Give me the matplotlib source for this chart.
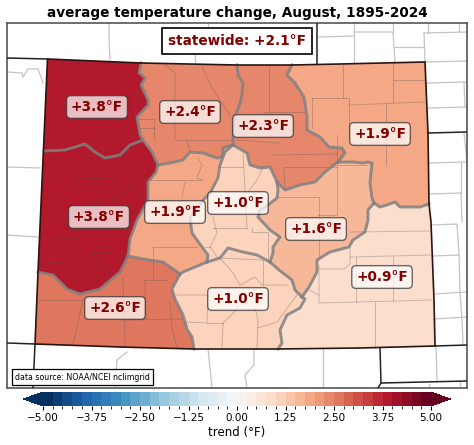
import numpy as np
import matplotlib

matplotlib.use("Agg")
import matplotlib.pyplot as plt
from matplotlib.colors import BoundaryNorm, ListedColormap
from matplotlib.colorbar import ColorbarBase
from matplotlib.patches import Polygon

W, H = 474, 445

# trends per division, degrees F
trend_nw = 3.8
trend_sw = 3.8
trend_north = 2.4
trend_northeast_mtn = 2.3
trend_east = 1.9
trend_west_mid = 1.9
trend_center = 1.0
trend_arkansas = 1.6
trend_southeast = 0.9
trend_south = 1.0
trend_southwest = 2.6
statewide = 2.1

label_values = [3.8, 2.4, 2.3, 1.9, 3.8, 1.9, 1.0, 1.6, 0.9, 1.0, 2.6]
label_xy = [(97, 107), (190, 112), (263, 126), (380, 134), (99, 217), (175, 212),
            (238, 203), (316, 229), (382, 277), (238, 299), (115, 308)]

# boundaries, in map units
north_a = [(47.5, 59), (141, 63)]
north_b = [(141, 63), (237, 65)]
north_c = [(237, 65), (292, 65)]
north_d = [(292, 65), (340, 64), (425, 62)]
east_a = [(425, 62), (428, 133), (429, 204)]
east_b = [(429, 204), (431, 222), (434, 300), (435, 346)]
south_a = [(435, 346), (360, 348), (278, 349)]
south_b = [(278, 349), (194, 349)]
south_c = [(194, 349), (120, 347), (35, 344)]
west_a = [(35, 344), (38, 272)]
west_b = [(38, 272), (47.5, 59)]

red_east = [(141, 63), (139, 73), (145, 78), (141, 85), (148, 100), (148, 105), (137, 117),
            (140, 135), (143, 140), (152, 152), (158, 165)]
red_east2 = [(158, 165), (156, 172), (148, 182), (148, 200), (137, 220), (130, 239), (128, 256)]
red_south = [(128, 256), (120, 272), (100, 289), (80, 294), (67, 289), (53, 275), (38, 272)]
red_split = [(44, 151), (65, 150), (85, 144), (95, 152), (105, 158), (120, 155), (130, 145), (143, 140)]
sw_top = [(128, 256), (143, 259), (163, 262), (180, 274)]
sw_east = [(180, 274), (172, 289), (175, 299), (183, 315), (187, 329), (192, 337), (194, 349)]
north_south = [(158, 165), (170, 163), (183, 160), (190, 152), (203, 153), (217, 158), (222, 157),
               (223, 148), (233, 145)]
north_mid = [(237, 65), (238, 75), (243, 83), (242, 95), (240, 103), (235, 117), (233, 137), (233, 145)]
center_ne = [(233, 145), (247, 153), (250, 165), (260, 168), (270, 167), (277, 182)]
center_e = [(277, 182), (278, 190), (277, 198), (268, 205), (260, 210), (258, 217), (270, 230),
            (280, 237), (273, 247), (273, 253), (270, 262)]
center_w = [(233, 145), (225, 152), (220, 165), (218, 178), (210, 193), (205, 198), (190, 218),
            (192, 233), (202, 247), (208, 255), (207, 262)]
center_s_w = [(207, 262), (220, 258), (228, 248), (243, 252), (257, 255), (270, 262)]
mid_s = [(180, 274), (183, 272), (207, 262)]
mtn_east = [(292, 65), (287, 75), (295, 83), (304, 97), (307, 117), (307, 130), (320, 137),
            (329, 147), (342, 148), (345, 153), (338, 162)]
mtn_south = [(338, 162), (325, 172), (315, 182), (300, 185), (285, 190), (277, 182)]
ark_top = [(338, 162), (353, 162), (363, 163), (368, 162), (372, 163), (370, 183), (372, 198), (374, 203)]
ark_se = [(374, 203), (368, 210), (368, 220), (365, 232), (353, 240), (349, 247), (330, 252),
          (317, 260), (317, 272), (309, 287), (302, 297)]
ark_sw = [(302, 297), (295, 290), (292, 280), (279, 270), (270, 262)]
east_south = [(374, 203), (380, 207), (387, 205), (395, 202), (400, 207), (420, 207), (429, 204)]
south_se = [(302, 297), (305, 299), (300, 308), (287, 315), (280, 330), (282, 343), (278, 349)]


def chain(*parts):
    pts = []
    for p in parts:
        pts.extend(p)
    return pts


def rev(p):
    return p[::-1]


regions = [
    (chain(north_a, red_east, red_east2, red_south, west_b), trend_nw),
    (chain(west_a, rev(red_south), sw_top, sw_east, south_c), trend_southwest),
    (chain(north_b, north_mid, rev(north_south), rev(red_east)), trend_north),
    (chain(north_c, mtn_east, mtn_south, rev(center_ne), rev(north_mid)), trend_northeast_mtn),
    (chain(north_d, east_a, rev(east_south), rev(ark_top), rev(mtn_east)), trend_east),
    (chain(north_south, center_w, rev(mid_s), rev(sw_top), rev(red_east2)), trend_west_mid),
    (chain(center_ne, center_e, rev(center_s_w), rev(center_w)), trend_center),
    (chain(rev(mtn_south), ark_top, ark_se, ark_sw, rev(center_e)), trend_arkansas),
    (chain(east_south, east_b, south_a, rev(south_se), rev(ark_se)), trend_southeast),
    (chain(mid_s, center_s_w, rev(ark_sw), south_se, south_b, rev(sw_east)), trend_south),
]

division_lines = [red_east, red_east2, red_south, red_split, sw_top, sw_east, north_south, north_mid,
                  center_ne, center_e, center_w, center_s_w, mid_s, mtn_east, mtn_south, ark_top,
                  ark_se, ark_sw, east_south, south_se]

state_outline = chain(north_a, north_b, north_c, north_d, east_a, east_b, south_a, south_b, south_c, west_a, west_b)

state_lines = [
    [(7, 58), (47.5, 59)],
    [(7, 343), (35, 344)],
    [(35, 344), (33, 388)],
    [(317, 23), (317, 64)],
    [(428, 133), (467, 132)],
    [(435, 346), (467, 345)],
    [(380, 348), (381, 383), (467, 381)],
    [(381, 383), (378, 388)],
]

outer_counties = [
    [(109, 23), (109, 37), (110, 60)], [(208, 23), (208, 36)], [(195, 55), (195, 62)],
    [(7, 72), (22, 73), (23, 77), (28, 69), (38, 69), (43, 83)], [(7, 167), (40, 168)], [(7, 235), (38, 237)],
    [(127, 352), (117, 360), (115, 388)], [(208, 349), (212, 388)],
    [(254, 350), (254, 365), (245, 375), (247, 388)], [(323, 349), (323, 388)],
    [(436, 346), (437, 381)], [(429, 384), (429, 388)], [(460, 382), (460, 388)],
    [(432, 225), (457, 224), (459, 255), (460, 292), (462, 319), (463, 345)],
    [(433, 256), (459, 255)], [(434, 294), (467, 292)], [(434, 319), (467, 317)],
    [(354, 23), (354, 62)], [(354, 32), (393, 32), (395, 62)], [(393, 23), (393, 32)], [(428, 23), (428, 33)],
    [(319, 37), (354, 36)], [(395, 47), (424, 47)], [(424, 33), (425, 62)], [(424, 33), (467, 32)],
    [(459, 23), (459, 32)], [(425, 62), (467, 61)], [(427, 83), (467, 82)], [(464, 82), (465, 107)],
    [(428, 108), (467, 107)], [(429, 163), (467, 162)], [(464, 133), (467, 162)],
    [(430, 194), (461, 193), (462, 222)], [(461, 163), (461, 193)],
]

inner_counties = [
    [(343, 65), (343, 98)], [(312, 98), (349, 98), (349, 135)], [(312, 98), (312, 128)],
    [(349, 105), (425, 102)], [(393, 63), (393, 102)], [(393, 80), (425, 80)], [(386, 104), (386, 165)],
    [(337, 135), (337, 163)], [(337, 165), (337, 215), (318, 215)], [(337, 165), (367, 165)],
    [(277, 197), (319, 197), (319, 260)], [(269, 65), (269, 112)], [(263, 112), (305, 112)],
    [(284, 167), (337, 167)], [(284, 168), (285, 190)], [(272, 155), (337, 154)], [(237, 140), (280, 143)],
    [(165, 65), (175, 73), (175, 140)], [(202, 67), (212, 88), (230, 115)],
    [(138, 119), (154, 119), (154, 138)], [(140, 128), (154, 128)], [(177, 140), (233, 140)],
    [(187, 140), (190, 152)],
    [(45, 115), (137, 115)], [(135, 95), (135, 115)], [(135, 95), (147, 90)],
    [(103, 155), (103, 145), (140, 145)], [(43, 155), (118, 155)], [(43, 177), (148, 180)],
    [(130, 180), (133, 187), (147, 200)], [(133, 187), (117, 200), (95, 203), (93, 220)],
    [(41, 237), (77, 239), (78, 222)], [(38, 262), (100, 264), (110, 277)], [(92, 252), (128, 254)],
    [(92, 252), (102, 262)], [(120, 254), (122, 269)],
    [(40, 300), (83, 300)], [(83, 300), (78, 322), (73, 344)], [(123, 277), (125, 345)],
    [(145, 280), (146, 319)], [(125, 320), (183, 319)], [(170, 302), (172, 329), (177, 347)],
    [(145, 280), (167, 280)], [(153, 247), (153, 279)], [(153, 247), (197, 247)],
    [(148, 180), (202, 180)], [(185, 182), (182, 197)], [(198, 158), (202, 165), (197, 178), (202, 180)],
    [(218, 167), (243, 167)], [(243, 153), (247, 228)], [(213, 228), (247, 228)],
    [(213, 217), (217, 233), (210, 247), (218, 258)], [(205, 247), (210, 247)],
    [(252, 228), (252, 232), (268, 232), (268, 260)], [(263, 167), (257, 180), (247, 193)],
    [(220, 258), (233, 273), (240, 285), (255, 277), (262, 285), (287, 285)], [(263, 260), (263, 285)],
    [(177, 295), (208, 295), (207, 323), (185, 322)], [(207, 323), (223, 323)],
    [(238, 308), (223, 323), (222, 347)], [(255, 308), (258, 320), (257, 348)],
    [(258, 328), (277, 322), (297, 295)], [(220, 258), (263, 260)],
    [(319, 265), (319, 303), (432, 300)], [(356, 257), (356, 302)], [(350, 257), (432, 255)],
    [(393, 257), (393, 301)], [(375, 302), (375, 348)], [(350, 232), (430, 231)],
    [(319, 269), (344, 269), (350, 264), (350, 247)], [(309, 290), (319, 295)],
]

levels = np.linspace(-5, 5, 41)
cbar_ticks = [-5.0, -3.75, -2.5, -1.25, 0.0, 1.25, 2.5, 3.75, 5.0]
base = plt.get_cmap("RdBu_r")
cmap = ListedColormap(base(np.linspace(0, 1, 40)))
cmap.set_under(base(0.0))
cmap.set_over(base(1.0))
norm = BoundaryNorm(levels, 40)

fig = plt.figure(figsize=(W / 100, H / 100), dpi=100)
ax = fig.add_axes([7 / W, 1 - 388 / H, 460 / W, 365 / H])
ax.set_xlim(7, 467)
ax.set_ylim(388, 23)
ax.set_xticks([])
ax.set_yticks([])
for s in ax.spines.values():
    s.set_color("#555555")
    s.set_linewidth(1.2)

for pts, val in regions:
    ax.add_patch(Polygon(pts, closed=True, facecolor=cmap(norm(val)), edgecolor="none", zorder=1))

for ln in outer_counties:
    xy = np.array(ln)
    ax.plot(xy[:, 0], xy[:, 1], color="#c4c4c4", lw=0.9, zorder=2)
for ln in inner_counties:
    xy = np.array(ln)
    ax.plot(xy[:, 0], xy[:, 1], color="#555555", alpha=0.3, lw=0.7, zorder=2)
for ln in division_lines:
    xy = np.array(ln)
    ax.plot(xy[:, 0], xy[:, 1], color="#808080", alpha=0.85, lw=2.1, zorder=3, solid_joinstyle="round")
for ln in state_lines:
    xy = np.array(ln)
    ax.plot(xy[:, 0], xy[:, 1], color="#222222", lw=1.1, zorder=4)
ax.add_patch(Polygon(state_outline, closed=True, facecolor="none", edgecolor="#2a1510", lw=1.2, zorder=4))

for (x, y), v in zip(label_xy, label_values):
    ax.text(x, y, f"{v:+.1f}°F", ha="center", va="center", color="#800000", fontsize=9.8, fontweight="bold",
            zorder=6, bbox=dict(boxstyle="round,pad=0.32", facecolor="white", alpha=0.72, edgecolor="#333333", lw=1))

ax.text(237, 41, f"statewide: {statewide:+.1f}°F", ha="center", va="center", color="#800000", fontsize=9.8,
        fontweight="bold", zorder=7, bbox=dict(boxstyle="square,pad=0.42", facecolor="white", edgecolor="black", lw=1.2))
ax.text(82.5, 377, "data source: NOAA/NCEI nclimgrid", ha="center", va="center", fontsize=5.7, zorder=7,
        bbox=dict(boxstyle="square,pad=0.38", facecolor="white", edgecolor="black", lw=0.9))

ax.set_title("average temperature change, August, 1895-2024", fontsize=9.85, fontweight="bold", pad=4)

cax = fig.add_axes([23.6 / W, 1 - 406 / H, 426.8 / W, 14 / H])
cb = ColorbarBase(cax, cmap=cmap, norm=norm, orientation="horizontal", extend="both", ticks=cbar_ticks,
                  spacing="uniform", drawedges=False)
cb.ax.set_xticks(cbar_ticks)
cb.ax.set_xticklabels([f"{t:.2f}".replace("-", "\u2212") for t in cbar_ticks])
cb.ax.tick_params(labelsize=7.5, length=3, width=0.8, pad=2)
cb.outline.set_visible(False)
cb.set_label("trend (°F)", fontsize=8.5, labelpad=2)

fig.savefig("out.png", dpi=100)
